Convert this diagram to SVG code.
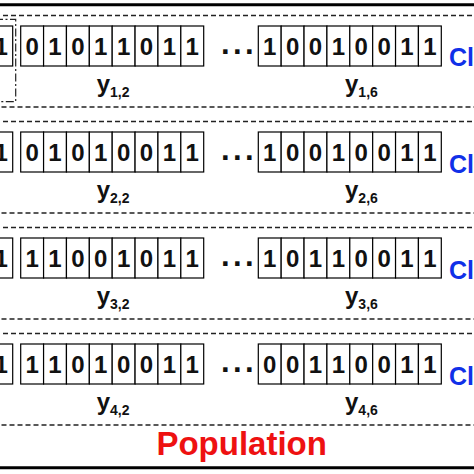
<svg xmlns="http://www.w3.org/2000/svg" width="474" height="474" viewBox="0 0 474 474">
<style>
.bg{fill:#ffffff}
.frame{stroke:#000;stroke-width:3;fill:none}
.dash{fill:none;stroke:#222;stroke-width:1.3;stroke-dasharray:5 3}
.dashdot{fill:none;stroke:#222;stroke-width:1.2;stroke-dasharray:8 2.5 2 2.5}
.cell{fill:#fff;stroke:#000;stroke-width:1.2}
.bit{font-family:"Liberation Sans",Arial,sans-serif;font-weight:bold;font-size:24px;fill:#111;text-anchor:middle}
.ell{font-family:"Liberation Sans",Arial,sans-serif;font-weight:bold;font-size:31px;fill:#111;letter-spacing:3.4px}
.lbl{font-family:"Liberation Sans",Arial,sans-serif;font-weight:bold;font-size:24px;fill:#111}
.sub{font-size:14px}
.cl{font-family:"Liberation Sans",Arial,sans-serif;font-weight:bold;font-size:25px;fill:#1030e8}
.pop{font-family:"Liberation Sans",Arial,sans-serif;font-weight:bold;font-size:33px;fill:#ee1111;text-anchor:middle}
</style>
<defs>
<g id="cells8">
<rect class="cell" x="0" y="0" width="22.875" height="40"/>
<rect class="cell" x="22.875" y="0" width="22.875" height="40"/>
<rect class="cell" x="45.75" y="0" width="22.875" height="40"/>
<rect class="cell" x="68.625" y="0" width="22.875" height="40"/>
<rect class="cell" x="91.5" y="0" width="22.875" height="40"/>
<rect class="cell" x="114.375" y="0" width="22.875" height="40"/>
<rect class="cell" x="137.25" y="0" width="22.875" height="40"/>
<rect class="cell" x="160.125" y="0" width="22.875" height="40"/>
</g>
</defs>
<rect class="bg" x="0" y="0" width="474" height="474"/>
<line class="frame" x1="-5" y1="4.7" x2="479" y2="4.7"/>
<line class="frame" x1="-5" y1="467.8" x2="479" y2="467.8"/>

<g id="row1">
<rect class="dash" x="-5" y="15.5" width="484" height="91.5"/>
<rect class="dashdot" x="-20" y="19.3" width="35.7" height="82.4"/>
<rect class="cell" x="-10.2" y="26" width="22.9" height="40"/>
<text class="bit" x="1.25" y="54.5">1</text>
<use href="#cells8" x="20.7" y="26"/>
<text class="bit" y="54.5"><tspan x="32.1">0</tspan><tspan x="55">1</tspan><tspan x="77.9">0</tspan><tspan x="100.8">1</tspan><tspan x="123.6">1</tspan><tspan x="146.5">0</tspan><tspan x="169.4">1</tspan><tspan x="192.3">1</tspan></text>
<text class="ell" x="221" y="53.5">...</text>
<use href="#cells8" x="258.3" y="26"/>
<text class="bit" y="54.5"><tspan x="269.7">1</tspan><tspan x="292.6">0</tspan><tspan x="315.5">0</tspan><tspan x="338.4">1</tspan><tspan x="361.2">0</tspan><tspan x="384.1">0</tspan><tspan x="407">1</tspan><tspan x="429.9">1</tspan></text>
<text class="lbl" x="96.7" y="92">y<tspan class="sub" dy="5">1,2</tspan></text>
<text class="lbl" x="345" y="92">y<tspan class="sub" dy="5">1,6</tspan></text>
<text class="cl" x="449" y="66">Cl</text>
</g>

<g id="row2" transform="translate(0,106)">
<rect class="dash" x="-5" y="15.5" width="484" height="91.5"/>
<rect class="cell" x="-10.2" y="26" width="22.9" height="40"/>
<text class="bit" x="1.25" y="54.5">1</text>
<use href="#cells8" x="20.7" y="26"/>
<text class="bit" y="54.5"><tspan x="32.1">0</tspan><tspan x="55">1</tspan><tspan x="77.9">0</tspan><tspan x="100.8">1</tspan><tspan x="123.6">0</tspan><tspan x="146.5">0</tspan><tspan x="169.4">1</tspan><tspan x="192.3">1</tspan></text>
<text class="ell" x="221" y="53.5">...</text>
<use href="#cells8" x="258.3" y="26"/>
<text class="bit" y="54.5"><tspan x="269.7">1</tspan><tspan x="292.6">0</tspan><tspan x="315.5">0</tspan><tspan x="338.4">1</tspan><tspan x="361.2">0</tspan><tspan x="384.1">0</tspan><tspan x="407">1</tspan><tspan x="429.9">1</tspan></text>
<text class="lbl" x="96.7" y="92">y<tspan class="sub" dy="5">2,2</tspan></text>
<text class="lbl" x="345" y="92">y<tspan class="sub" dy="5">2,6</tspan></text>
<text class="cl" x="449" y="67">Cl</text>
</g>

<g id="row3" transform="translate(0,212)">
<rect class="dash" x="-5" y="15.5" width="484" height="91.5"/>
<rect class="cell" x="-10.2" y="26" width="22.9" height="40"/>
<text class="bit" x="1.25" y="54.5">1</text>
<use href="#cells8" x="20.7" y="26"/>
<text class="bit" y="54.5"><tspan x="32.1">1</tspan><tspan x="55">1</tspan><tspan x="77.9">0</tspan><tspan x="100.8">0</tspan><tspan x="123.6">1</tspan><tspan x="146.5">0</tspan><tspan x="169.4">1</tspan><tspan x="192.3">1</tspan></text>
<text class="ell" x="221" y="53.5">...</text>
<use href="#cells8" x="258.3" y="26"/>
<text class="bit" y="54.5"><tspan x="269.7">1</tspan><tspan x="292.6">0</tspan><tspan x="315.5">1</tspan><tspan x="338.4">1</tspan><tspan x="361.2">0</tspan><tspan x="384.1">0</tspan><tspan x="407">1</tspan><tspan x="429.9">1</tspan></text>
<text class="lbl" x="96.7" y="92">y<tspan class="sub" dy="5">3,2</tspan></text>
<text class="lbl" x="345" y="92">y<tspan class="sub" dy="5">3,6</tspan></text>
<text class="cl" x="449" y="67">Cl</text>
</g>

<g id="row4" transform="translate(0,318)">
<rect class="dash" x="-5" y="15.5" width="484" height="91.5"/>
<rect class="cell" x="-10.2" y="26" width="22.9" height="40"/>
<text class="bit" x="1.25" y="54.5">1</text>
<use href="#cells8" x="20.7" y="26"/>
<text class="bit" y="54.5"><tspan x="32.1">1</tspan><tspan x="55">1</tspan><tspan x="77.9">0</tspan><tspan x="100.8">1</tspan><tspan x="123.6">0</tspan><tspan x="146.5">0</tspan><tspan x="169.4">1</tspan><tspan x="192.3">1</tspan></text>
<text class="ell" x="221" y="53.5">...</text>
<use href="#cells8" x="258.3" y="26"/>
<text class="bit" y="54.5"><tspan x="269.7">0</tspan><tspan x="292.6">0</tspan><tspan x="315.5">1</tspan><tspan x="338.4">1</tspan><tspan x="361.2">0</tspan><tspan x="384.1">0</tspan><tspan x="407">1</tspan><tspan x="429.9">1</tspan></text>
<text class="lbl" x="96.7" y="92">y<tspan class="sub" dy="5">4,2</tspan></text>
<text class="lbl" x="345" y="92">y<tspan class="sub" dy="5">4,6</tspan></text>
<text class="cl" x="449" y="67">Cl</text>
</g>

<g id="population">
<text class="pop" x="241.7" y="455">Population</text>
</g>
</svg>
